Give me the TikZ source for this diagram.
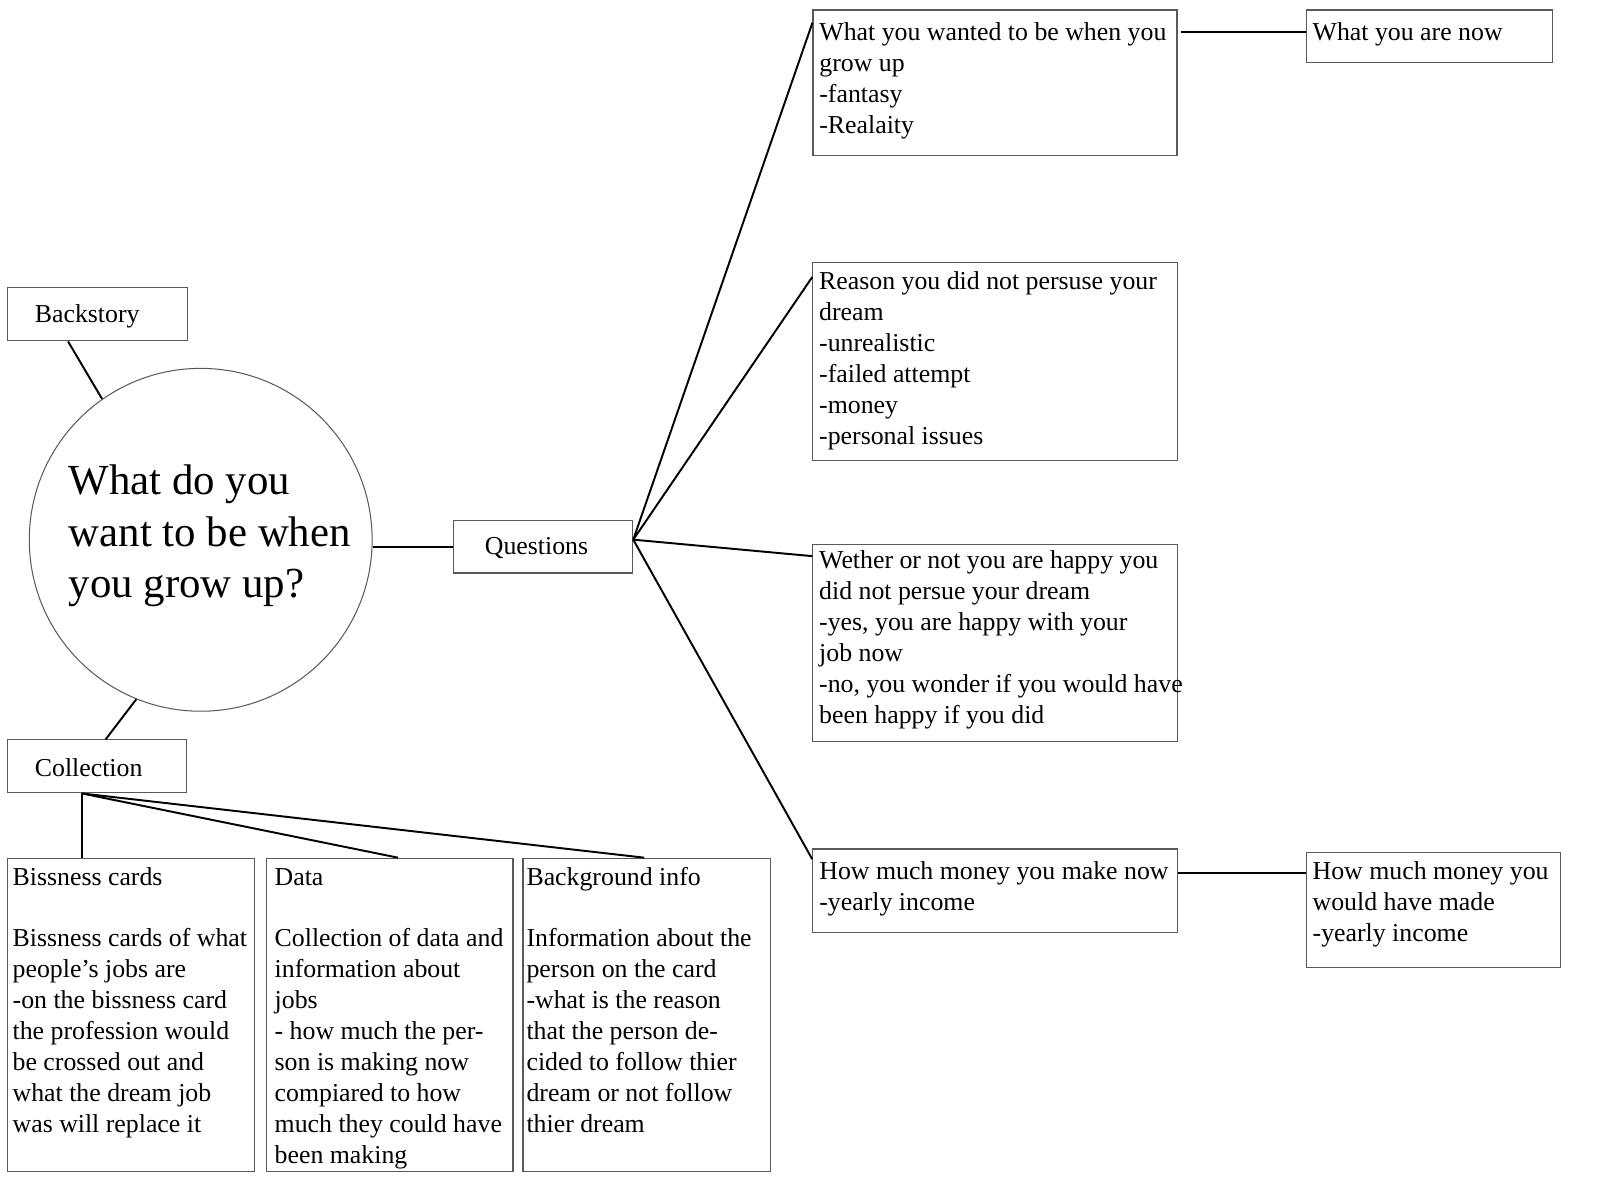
\documentclass[tikz,border=0pt]{standalone}
\usepackage{fontspec}
\setmainfont{Liberation Serif}
\usetikzlibrary{calc}
\tikzset{
  box/.style={draw=black!65, line width=1.1pt, inner sep=0pt, anchor=north west},
  con/.style={draw=black, line width=1.9pt},
  txt/.style={inner sep=0pt, anchor=base west, font=\fontsize{25.3}{30.3}\selectfont},
  bigtxt/.style={inner sep=0pt, anchor=base west, font=\fontsize{42}{50.3}\selectfont},
}
\newcommand{\Ltxt}[1]{\parbox[t]{420pt}{\raggedright #1}}
\begin{document}
\begin{tikzpicture}[x=1pt,y=-1pt]
\useasboundingbox[fill=white] (0,0) rectangle (1568,1157.4);

% central circle
\node[draw=black!65, line width=1pt, circle, minimum size=336pt, inner sep=0pt] (c) at (196.7,529) {};
\node[bigtxt] (tc) at (67.2,484.8) {\parbox[t]{300pt}{\raggedright What do you\\want to be when\\you grow up?}};

% left boxes
\node[box, minimum width=176.4pt, minimum height=51.9pt] (bs) at (6.4,281.6) {};
\node[txt] (tbs) at (34,316) {Backstory};
\node[box, minimum width=176pt, minimum height=52pt] (col) at (6.4,724.5) {};
\node[txt] (tcol) at (34,761) {Collection};
\node[box, minimum width=175.5pt, minimum height=51.4pt] (q) at (444,509.6) {};
\node[txt] (tq) at (475,543.5) {Questions};

% right boxes
\node[box, minimum width=356.7pt, minimum height=142.7pt] (b1) at (796.2,9.2) {};
\node[txt] (tb1) at (802.8,40) {\Ltxt{What you wanted to be when you\\grow up\\-fantasy\\-Realaity}};
\node[box, minimum width=241.5pt, minimum height=51.9pt] (bn) at (1279.5,9.2) {};
\node[txt] (tbn) at (1286.2,40) {What you are now};

\node[box, minimum width=357.5pt, minimum height=194pt] (b2) at (796,257) {};
\node[txt] (tb2) at (802.6,283.8) {\Ltxt{Reason you did not persuse your\\dream\\-unrealistic\\-failed attempt\\-money\\-personal issues}};

\node[box, minimum width=357pt, minimum height=193pt] (b3) at (796,533) {};
\node[txt] (tb3) at (802.6,557.3) {\Ltxt{Wether or not you are happy you\\did not persue your dream\\-yes, you are happy with your\\job now\\-no, you wonder if you would have\\been happy if you did}};

\node[box, minimum width=357pt, minimum height=81.6pt] (b4) at (796,831.4) {};
\node[txt] (tb4) at (802.8,861.8) {\Ltxt{How much money you make now\\-yearly income}};
\node[box, minimum width=249.5pt, minimum height=113.4pt] (b5) at (1279.5,834.6) {};
\node[txt] (tb5) at (1286.2,861.8) {\Ltxt{How much money you\\would have made\\-yearly income}};

% bottom boxes
\node[box, minimum width=242.7pt, minimum height=307.1pt] (bc) at (6.4,840.5) {};
\node[txt] (tbc) at (12.2,867.3) {\Ltxt{Bissness cards\\[30.3pt]Bissness cards of what\\people’s jobs are\\-on the bissness card\\the profession would\\be crossed out and\\what the dream job\\was will replace it}};
\node[box, minimum width=241.3pt, minimum height=307.1pt] (da) at (260.9,840.5) {};
\node[txt] (tda) at (269,867.3) {\Ltxt{Data\\[30.3pt]Collection of data and\\information about\\jobs\\- how much the per-\\son is making now\\compiared to how\\much they could have\\been making}};
\node[box, minimum width=242.7pt, minimum height=307.1pt] (bg) at (512,840.5) {};
\node[txt] (tbg) at (515.8,867.3) {\Ltxt{Background info\\[30.3pt]Information about the\\person on the card\\-what is the reason\\that the person de-\\cided to follow thier\\dream or not follow\\thier dream}};

% connectors
\draw[con] ($(bs.south west)+(60.3,0)$) -- (c.125.8);
\draw[con] (c.248.9) -- ($(col.north west)+(97.2,0)$);
\draw[con] (c.east |- q.west) -- (q.west);
\coordinate (qf) at ($(q.east)+(0,-7)$);
\draw[con] (qf) -- ($(b1.north west)+(0,13)$);
\draw[con] (qf) -- ($(b2.north west)+(0,14.5)$);
\draw[con] (qf) -- ($(b3.north west)+(0,12)$);
\draw[con] (qf) -- ($(b4.north west)+(0,10.6)$);
\coordinate (k1) at ($(b1.north east)+(3.5,22.5)$);
\draw[con] (k1) -- (k1 -| bn.west);
\coordinate (k4) at ($(b4.north east)+(0,24.5)$);
\draw[con] (k4) -- (k4 -| b5.west);
\coordinate (cf) at ($(col.south west)+(74,0)$);
\draw[con] (cf) -- ($(bc.north west)+(74,0)$);
\draw[con] (cf) -- ($(da.north west)+(129.1,0)$);
\draw[con] (cf) -- ($(bg.north west)+(119.3,0)$);
\end{tikzpicture}
\end{document}
